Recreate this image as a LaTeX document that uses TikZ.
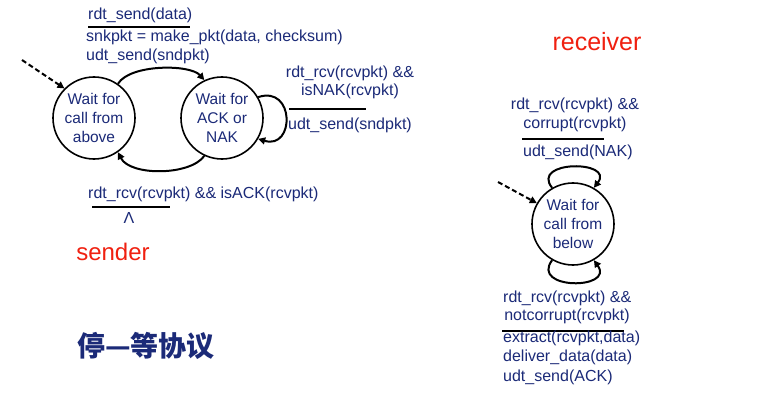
\documentclass[tikz,border=0pt]{standalone}
\usepackage{fontspec}
\setmainfont{Liberation Sans}
\newfontfamily\cjk{Noto Sans CJK SC}
\usetikzlibrary{arrows.meta}
\definecolor{nav}{HTML}{1B2A78}
\definecolor{rd}{HTML}{F02010}
\begin{document}
\begin{tikzpicture}[x=1pt,y=-1pt,
  every node/.style={text=nav,font=\fontsize{16}{18}\selectfont,inner sep=0pt},
  st/.style={circle,draw=black,line width=1.6pt,minimum size=82pt,align=center,font=\fontsize{15.5}{19}\selectfont},
  ar/.style={line width=2pt,-{Triangle[length=7pt,width=7pt]}},
  lab/.style={anchor=west},
  bar/.style={line width=1.6pt}]
\useasboundingbox[fill=white] (0,0) rectangle (758,401);
\node[st] (s1) at (94,118) {Wait for\\call from\\above};
\node[st] (s2) at (222,118) {Wait for\\ACK or\\NAK};
\node[st] (r1) at (573,224) {Wait for\\call from\\below};
\coordinate (d1) at (22,60); \coordinate (d2) at (498,182);
\draw[ar,dash pattern=on 5pt off 3pt] (d1) -- (s1.135);
\draw[ar,dash pattern=on 5pt off 3pt] (d2) -- (r1.150);
\draw[ar] (s1.55) .. controls (130,64) and (190,64) .. (s2.115);
\draw[ar] (s2.-115) .. controls (190,176) and (130,176) .. (s1.-55);
\draw[ar] (s2.30) .. controls (295,85) and (295,150) .. (s2.-30);
\draw[ar] (r1.120) .. controls (530,160) and (615,160) .. (r1.60);
\draw[ar] (r1.-120) .. controls (530,290) and (615,290) .. (r1.-60);
% sender labels
\node[lab] (t1) at (88,15) {rdt\_send(data)};
\draw[bar] (88,27) -- (190,27);
\node[lab] (t2) at (86,37) {snkpkt = make\_pkt(data, checksum)};
\node[lab] (t3) at (86,56) {udt\_send(sndpkt)};
\node (t4) at (350,73) {rdt\_rcv(rcvpkt) \&\&};
\node (t5) at (350,91) {isNAK(rcvpkt)};
\draw[bar] (289,109) -- (366,109);
\node (t6) at (350,125) {udt\_send(sndpkt)};
\node[lab] (t7) at (88,194) {rdt\_rcv(rcvpkt) \&\& isACK(rcvpkt)};
\draw[bar] (92,207) -- (170,207);
\node (t8) at (129,218) {Λ};
\node[text=rd,font=\fontsize{24}{26}\selectfont] (snd) at (113,252) {sender};
\node[font=\cjk\bfseries\fontsize{28}{30}\selectfont] (cn) at (146,346) {停—等协议};
% receiver labels
\node[text=rd,font=\fontsize{25}{27}\selectfont] (rcv) at (597,42) {receiver};
\node (u1) at (575,105) {rdt\_rcv(rcvpkt) \&\&};
\node (u2) at (575,124) {corrupt(rcvpkt)};
\draw[bar] (522,139) -- (604,139);
\node[lab] (u3) at (523,152) {udt\_send(NAK)};
\node[lab] (v1) at (503,298) {rdt\_rcv(rcvpkt) \&\&};
\node (v2) at (567,316) {notcorrupt(rcvpkt)};
\draw[bar] (502,331) -- (624,331);
\node[lab] (v3) at (503,338) {extract(rcvpkt,data)};
\node[lab] (v4) at (503,357) {deliver\_data(data)};
\node[lab] (v5) at (503,377) {udt\_send(ACK)};
\end{tikzpicture}
\end{document}
